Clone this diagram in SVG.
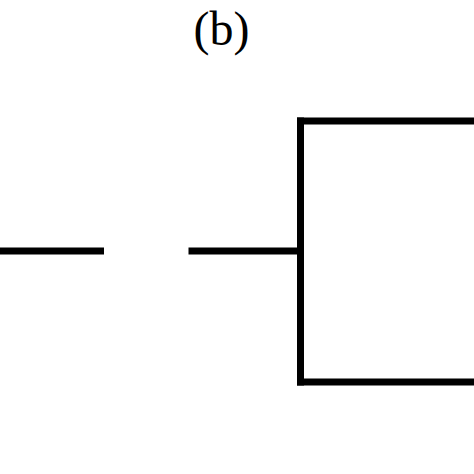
<svg xmlns="http://www.w3.org/2000/svg" width="474" height="474" viewBox="0 0 474 474">
<style>
.w{fill:none;stroke:#000;stroke-width:7;stroke-linecap:butt}
.t{font-family:"Liberation Serif",serif;font-size:48px;fill:#000;text-anchor:middle}
</style>
<rect width="474" height="474" fill="#fff"/>
<text class="t" x="221.5" y="45">(b)</text>
<g id="connectors">
<line class="w" x1="0" y1="251" x2="104" y2="251"/>
<line class="w" x1="188.5" y1="251" x2="300.5" y2="251"/>
</g>
<g id="box">
<polyline class="w" points="474,121 300.5,121 300.5,382 474,382"/>
<line class="w" x1="300.5" y1="117.5" x2="300.5" y2="385.5"/>
</g>
</svg>
